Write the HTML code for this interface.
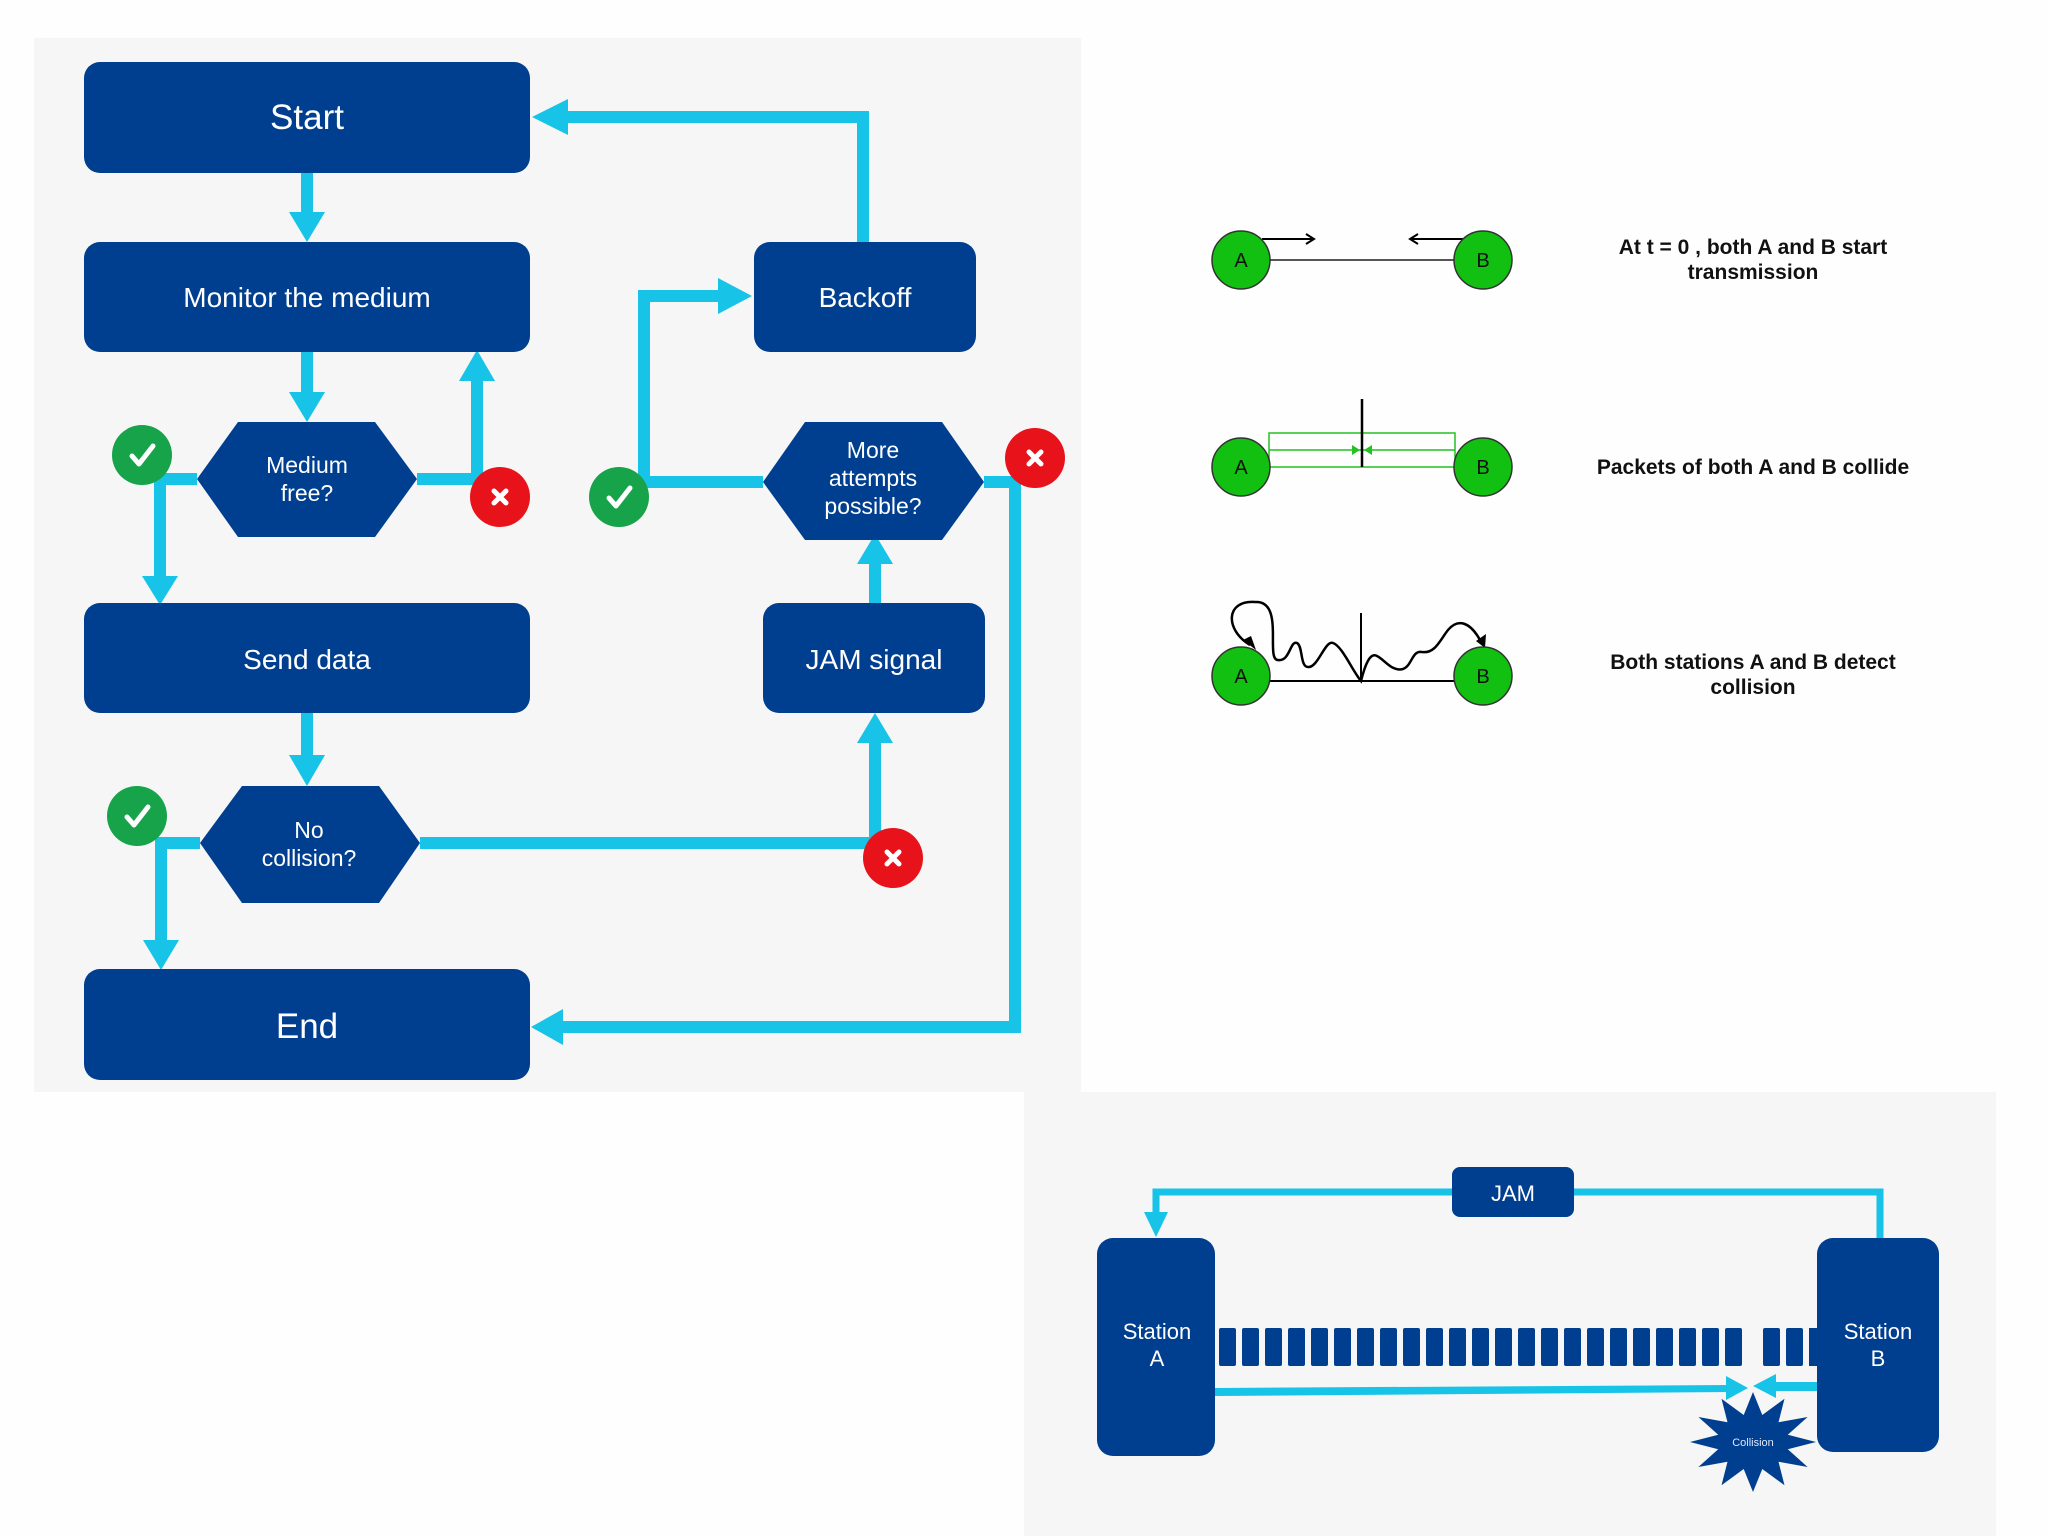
<!DOCTYPE html>
<html><head><meta charset="utf-8"><style>
html,body{margin:0;padding:0;background:#fff;}
svg{display:block;}
</style></head><body>
<svg width="2048" height="1536" viewBox="0 0 2048 1536" xmlns="http://www.w3.org/2000/svg">
<defs>
<pattern id="pk" x="1219" y="0" width="23" height="1536" patternUnits="userSpaceOnUse">
<rect x="0" y="1328" width="17" height="38" rx="2" fill="#003f8f"/>
</pattern>
</defs>
<rect width="2048" height="1536" fill="#fefefe"/>
<rect x="34" y="38" width="1047" height="1054" fill="#f6f6f6"/>
<rect x="1024" y="1092" width="972" height="444" fill="#f6f6f6"/>

<g fill="none" stroke="#17c3e6" stroke-width="12">
<line x1="307" y1="172" x2="307" y2="215"/>
<line x1="307" y1="352" x2="307" y2="395"/>
<polyline points="417,479 477,479 477,378"/>
<polyline points="197,479 160,479 160,580"/>
<line x1="307" y1="713" x2="307" y2="760"/>
<polyline points="200,843 161,843 161,945"/>
<polyline points="420,843 875,843 875,740"/>
<line x1="875" y1="603" x2="875" y2="560"/>
<polyline points="763,482 644,482 644,296 722,296"/>
<polyline points="863,242 863,117 565,117"/>
<polyline points="984,482 1015,482 1015,1027 560,1027"/>
</g>
<g fill="#17c3e6">
<polygon points="289,212 325,212 307,242"/>
<polygon points="289,392 325,392 307,422"/>
<polygon points="459,381 495,381 477,350"/>
<polygon points="142,576 178,576 160,605"/>
<polygon points="289,755 325,755 307,786"/>
<polygon points="143,940 179,940 161,970"/>
<polygon points="857,743 893,743 875,713"/>
<polygon points="857,564 893,564 875,534"/>
<polygon points="718,278 718,314 752,296"/>
<polygon points="568,99 568,135 532,117"/>
<polygon points="563,1009 563,1045 531,1027"/>
</g>

<g fill="#003f8f">
<rect x="84" y="62" width="446" height="111" rx="16"/>
<rect x="84" y="242" width="446" height="110" rx="16"/>
<rect x="84" y="603" width="446" height="110" rx="16"/>
<rect x="84" y="969" width="446" height="111" rx="16"/>
<rect x="754" y="242" width="222" height="110" rx="16"/>
<rect x="763" y="603" width="222" height="110" rx="16"/>
<polygon points="197,479 238,422 375,422 417,479 375,537 238,537"/>
<polygon points="763,482 805,422 942,422 984,482 942,540 805,540"/>
<polygon points="200,843 242,786 379,786 420,843 379,903 242,903"/>
</g>
<g fill="#fff" font-family="Liberation Sans, sans-serif" text-anchor="middle">
<text x="307" y="129" font-size="35">Start</text>
<text x="307" y="307" font-size="28">Monitor the medium</text>
<text x="307" y="669" font-size="28">Send data</text>
<text x="307" y="1038" font-size="35">End</text>
<text x="865" y="307" font-size="28">Backoff</text>
<text x="874" y="669" font-size="28">JAM signal</text>
<text x="307" y="473" font-size="23">Medium</text>
<text x="307" y="501" font-size="23">free?</text>
<text x="873" y="458" font-size="23">More</text>
<text x="873" y="486" font-size="23">attempts</text>
<text x="873" y="514" font-size="23">possible?</text>
<text x="309" y="838" font-size="23">No</text>
<text x="309" y="866" font-size="23">collision?</text>
</g>

<g>
<circle cx="142" cy="455" r="30" fill="#16a34a"/>
<circle cx="137" cy="816" r="30" fill="#16a34a"/>
<circle cx="619" cy="497" r="30" fill="#16a34a"/>
<g fill="none" stroke="#fff" stroke-width="5" stroke-linecap="round" stroke-linejoin="round">
<polyline points="132,456 139,464 153,446"/>
<polyline points="127,817 134,825 148,807"/>
<polyline points="609,498 616,506 630,488"/>
</g>
<circle cx="500" cy="497" r="30" fill="#e8121a"/>
<circle cx="893" cy="858" r="30" fill="#e8121a"/>
<circle cx="1035" cy="458" r="30" fill="#e8121a"/>
<g stroke="#fff" stroke-width="5" stroke-linecap="round">
<path d="M494 491 L506 503 M506 491 L494 503"/>
<path d="M887 852 L899 864 M899 852 L887 864"/>
<path d="M1029 452 L1041 464 M1041 452 L1029 464"/>
</g>
</g>

<g stroke="#000" fill="none" stroke-width="2">
<line x1="1270" y1="260" x2="1454" y2="260" stroke="#555"/>
<line x1="1262" y1="239" x2="1312" y2="239"/>
<polyline points="1306,234 1314,239 1306,244"/>
<line x1="1463" y1="239" x2="1412" y2="239"/>
<polyline points="1418,234 1410,239 1418,244"/>
</g>
<g fill="none" stroke="#22c222" stroke-width="1.5">
<rect x="1269" y="433" width="186" height="34"/>
<line x1="1269" y1="450" x2="1455" y2="450"/>
</g>
<polygon points="1352,445 1360,450 1352,455" fill="#22c222"/>
<polygon points="1372,445 1364,450 1372,455" fill="#22c222"/>
<line x1="1362" y1="399" x2="1362" y2="467" stroke="#000" stroke-width="2.5"/>
<line x1="1270" y1="681" x2="1454" y2="681" stroke="#000" stroke-width="2"/>
<line x1="1361" y1="613" x2="1361" y2="681" stroke="#000" stroke-width="2"/>
<path d="M1250 645 C1225 630 1225 600 1255 602 C1285 600 1265 660 1278 660 C1290 662 1290 640 1297 643 C1303 646 1300 667 1308 667 C1318 668 1325 640 1333 643 C1342 646 1352 670 1361 681 C1365 665 1370 652 1377 656 C1385 660 1392 672 1403 669 C1412 666 1412 650 1422 652 C1435 654 1440 640 1448 630 C1458 618 1470 622 1480 640" fill="none" stroke="#000" stroke-width="2.5"/>
<polygon points="1243,640 1256,650 1251,636" fill="#000"/>
<polygon points="1476,641 1485,648 1486,634" fill="#000"/>
<g fill="#11c011" stroke="#333" stroke-width="1.5">
<circle cx="1241" cy="260" r="29"/><circle cx="1483" cy="260" r="29"/>
<circle cx="1241" cy="467" r="29"/><circle cx="1483" cy="467" r="29"/>
<circle cx="1241" cy="676" r="29"/><circle cx="1483" cy="676" r="29"/>
</g>
<g font-family="Liberation Sans, sans-serif" font-size="20" text-anchor="middle" fill="#111">
<text x="1241" y="267">A</text><text x="1483" y="267">B</text>
<text x="1241" y="474">A</text><text x="1483" y="474">B</text>
<text x="1241" y="683">A</text><text x="1483" y="683">B</text>
</g>
<g font-family="Liberation Sans, sans-serif" font-size="21" font-weight="bold" text-anchor="middle" fill="#111">
<text x="1753" y="254">At t = 0 , both A and B start</text>
<text x="1753" y="279">transmission</text>
<text x="1753" y="474">Packets of both A and B collide</text>
<text x="1753" y="669">Both stations A and B detect</text>
<text x="1753" y="694">collision</text>
</g>

<g fill="none" stroke="#17c3e6" stroke-width="7">
<polyline points="1880,1240 1880,1192 1156,1192 1156,1216"/>
</g>
<polygon points="1144,1212 1168,1212 1156,1237" fill="#17c3e6"/>
<rect x="1452" y="1167" width="122" height="50" rx="8" fill="#003f8f"/>
<text x="1513" y="1201" font-family="Liberation Sans, sans-serif" font-size="22" fill="#fff" text-anchor="middle">JAM</text>
<rect x="1219" y="1328" width="523" height="38" fill="url(#pk)"/>
<rect x="1763" y="1328" width="17" height="38" rx="2" fill="#003f8f"/>
<rect x="1786" y="1328" width="17" height="38" rx="2" fill="#003f8f"/>
<rect x="1809" y="1328" width="10" height="38" fill="#003f8f"/>
<polygon points="1215,1388 1730,1385 1730,1392 1215,1396" fill="#17c3e6"/>
<polygon points="1726,1376 1748,1388 1726,1400" fill="#17c3e6"/>
<rect x="1775" y="1382" width="45" height="9" fill="#17c3e6"/>
<polygon points="1776,1374 1753,1386 1776,1398" fill="#17c3e6"/>
<rect x="1097" y="1238" width="118" height="218" rx="16" fill="#003f8f"/>
<rect x="1817" y="1238" width="122" height="214" rx="16" fill="#003f8f"/>
<g font-family="Liberation Sans, sans-serif" font-size="22" fill="#fff" text-anchor="middle">
<text x="1157" y="1339">Station</text><text x="1157" y="1366">A</text>
<text x="1878" y="1339">Station</text><text x="1878" y="1366">B</text>
</g>
<polygon fill="#003f8f" points="1753,1392 1762.3,1415 1784.5,1398.7 1778.5,1422.2 1807.6,1417 1787.8,1434.7 1816,1442 1787.8,1449.3 1807.6,1467 1778.5,1461.8 1784.5,1485.3 1762.3,1469 1753,1492 1743.7,1469 1721.5,1485.3 1727.5,1461.8 1698.4,1467 1718.2,1449.3 1690,1442 1718.2,1434.7 1698.4,1417 1727.5,1422.2 1721.5,1398.7 1743.7,1415"/>
<text x="1753" y="1446" font-family="Liberation Sans, sans-serif" font-size="11" fill="#dfe8ff" text-anchor="middle">Collision</text>
</svg>
</body></html>
